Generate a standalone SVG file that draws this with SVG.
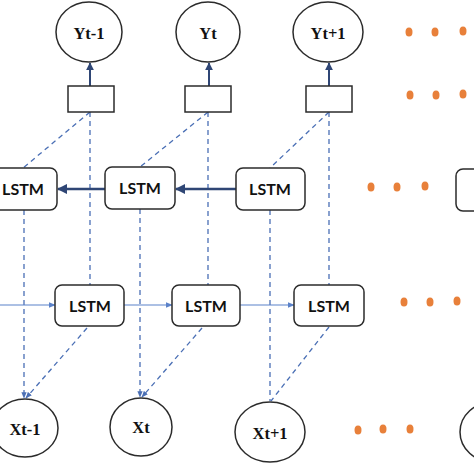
<svg xmlns="http://www.w3.org/2000/svg" width="474" height="474" viewBox="0 0 474 474">
<defs>
<style>
.node{fill:#fff;stroke:#2b2b2b;stroke-width:1.5}
.lbl{font-family:"Liberation Serif",serif;font-weight:bold;font-size:16.5px;text-anchor:middle;fill:#111}
.lstm{font-family:Lato,"Liberation Sans",sans-serif;font-weight:bold;font-size:16px;text-anchor:middle;fill:#111}
.dash{stroke:#4a6fb5;stroke-width:1.3;stroke-dasharray:5,4;fill:none}
.thick{stroke:#2f4675;stroke-width:2.6;fill:none}
.up{stroke:#2f4675;stroke-width:2;fill:none}
.thin{stroke:#5b82c9;stroke-width:1.2;fill:none}
.dot{fill:#e8803a}
</style>
<marker id="ah" viewBox="0 0 10 10" refX="9" refY="5" markerWidth="4" markerHeight="4" orient="auto"><path d="M0,0L10,5L0,10z" fill="#2f4675"/></marker>
<marker id="ahs" viewBox="0 0 10 10" refX="9" refY="5" markerWidth="6" markerHeight="6" orient="auto"><path d="M0,1L10,5L0,9z" fill="#5b82c9"/></marker>
<marker id="ahd" viewBox="0 0 10 10" refX="9" refY="5" markerWidth="5" markerHeight="5" orient="auto"><path d="M0,1L10,5L0,9z" fill="#4a6fb5"/></marker>
</defs>
<rect width="474" height="474" fill="#fff"/>
<g id="connectors">
<line class="dash" x1="90" y1="112" x2="90" y2="285"/>
<line class="dash" x1="208" y1="112" x2="208" y2="285"/>
<line class="dash" x1="329" y1="112" x2="329" y2="285"/>
<line class="dash" x1="90" y1="112" x2="23" y2="168"/>
<line class="dash" x1="208" y1="112" x2="140" y2="167"/>
<line class="dash" x1="329" y1="112" x2="270" y2="168"/>
<line class="dash" x1="24" y1="210" x2="24" y2="398" marker-end="url(#ahd)"/>
<line class="dash" x1="140" y1="209" x2="140" y2="397" marker-end="url(#ahd)"/>
<line class="dash" x1="270" y1="210" x2="270" y2="401"/>
<line class="dash" x1="87" y1="328" x2="26" y2="398" marker-end="url(#ahd)"/>
<line class="dash" x1="202" y1="328" x2="142" y2="397" marker-end="url(#ahd)"/>
<line class="dash" x1="329" y1="327" x2="271" y2="401"/>
<line class="up" x1="90" y1="86" x2="90" y2="63" marker-end="url(#ah)"/>
<line class="up" x1="209" y1="86" x2="209" y2="63" marker-end="url(#ah)"/>
<line class="up" x1="329" y1="86" x2="329" y2="63" marker-end="url(#ah)"/>
<line class="thick" x1="236" y1="189" x2="176" y2="189" marker-end="url(#ah)"/>
<line class="thick" x1="105" y1="189" x2="58" y2="189" marker-end="url(#ah)"/>
<line class="thin" x1="0" y1="305" x2="55" y2="305" marker-end="url(#ahs)"/>
<line class="thin" x1="124" y1="305" x2="172" y2="305" marker-end="url(#ahs)"/>
<line class="thin" x1="240" y1="305" x2="294" y2="305" marker-end="url(#ahs)"/>
</g>
<g id="y1"><ellipse class="node" cx="89" cy="32" rx="33" ry="30"/><text class="lbl" x="89" y="39">Yt-1</text></g>
<g id="y2"><ellipse class="node" cx="208" cy="32" rx="32" ry="30"/><text class="lbl" x="208" y="39">Yt</text></g>
<g id="y3"><ellipse class="node" cx="328" cy="32" rx="35" ry="30"/><text class="lbl" x="328" y="39">Yt+1</text></g>
<g id="o1"><rect class="node" x="68" y="86" width="46" height="26"/></g>
<g id="o2"><rect class="node" x="185" y="86" width="46" height="26"/></g>
<g id="o3"><rect class="node" x="306" y="86" width="46" height="26"/></g>
<g id="b1"><rect class="node" x="-12" y="168" width="69" height="42" rx="7"/><text class="lstm" x="23" y="195">LSTM</text></g>
<g id="b2"><rect class="node" x="105" y="167" width="70" height="42" rx="7"/><text class="lstm" x="140" y="194">LSTM</text></g>
<g id="b3"><rect class="node" x="236" y="168" width="69" height="42" rx="7"/><text class="lstm" x="270" y="195">LSTM</text></g>
<g id="b4"><rect class="node" x="456" y="169" width="69" height="42" rx="7"/></g>
<g id="f1"><rect class="node" x="55" y="285" width="69" height="41" rx="7"/><text class="lstm" x="90" y="312">LSTM</text></g>
<g id="f2"><rect class="node" x="172" y="285" width="68" height="41" rx="7"/><text class="lstm" x="206" y="312">LSTM</text></g>
<g id="f3"><rect class="node" x="294" y="285" width="70" height="41" rx="7"/><text class="lstm" x="329" y="312">LSTM</text></g>
<g id="x1"><ellipse class="node" cx="25" cy="428" rx="33" ry="29"/><text class="lbl" x="25" y="435">Xt-1</text></g>
<g id="x2"><ellipse class="node" cx="141" cy="427" rx="31" ry="29"/><text class="lbl" x="141" y="433">Xt</text></g>
<g id="x3"><ellipse class="node" cx="270" cy="432" rx="35" ry="30"/><text class="lbl" x="270" y="439">Xt+1</text></g>
<g id="x4"><ellipse class="node" cx="493" cy="432" rx="33" ry="30"/></g>
<g id="dots">
<ellipse class="dot" cx="409" cy="32" rx="3.5" ry="4.5"/><ellipse class="dot" cx="435" cy="32" rx="3.5" ry="4.5"/><ellipse class="dot" cx="463" cy="31" rx="3.5" ry="4.5"/>
<ellipse class="dot" cx="410" cy="95" rx="3.5" ry="4.5"/><ellipse class="dot" cx="436" cy="95" rx="3.5" ry="4.5"/><ellipse class="dot" cx="463" cy="94" rx="3.5" ry="4.5"/>
<ellipse class="dot" cx="371" cy="187" rx="3.5" ry="4.5"/><ellipse class="dot" cx="397" cy="187" rx="3.5" ry="4.5"/><ellipse class="dot" cx="425" cy="186" rx="3.5" ry="4.5"/>
<ellipse class="dot" cx="404" cy="302" rx="3.5" ry="4.5"/><ellipse class="dot" cx="430" cy="302" rx="3.5" ry="4.5"/><ellipse class="dot" cx="457" cy="301" rx="3.5" ry="4.5"/>
<ellipse class="dot" cx="358" cy="430" rx="3.5" ry="4.5"/><ellipse class="dot" cx="383" cy="429" rx="3.5" ry="4.5"/><ellipse class="dot" cx="410" cy="429" rx="3.5" ry="4.5"/>
</g>
</svg>
